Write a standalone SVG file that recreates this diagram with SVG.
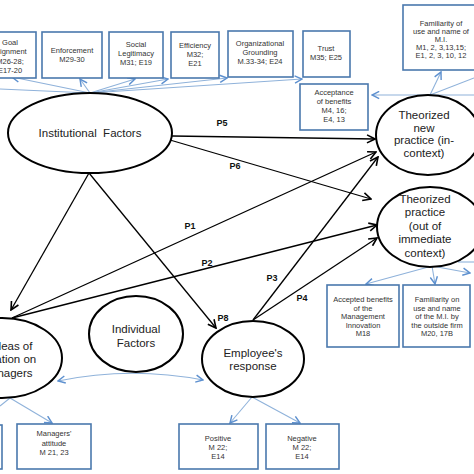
<svg xmlns="http://www.w3.org/2000/svg" width="474" height="474" viewBox="0 0 474 474">
<style>
.box{fill:#fff;stroke:#4a78ad;stroke-width:1.6}
.ell{fill:#fff;stroke:#000;stroke-width:2}
.lb{stroke:#8fb2da;stroke-width:1.1;fill:none}
.k{stroke:#000;stroke-width:1.3;fill:none}
text{font-family:"Liberation Sans",Arial,sans-serif;text-anchor:middle}
.bt{font-size:7.5px;fill:#333}
.et{font-size:11.5px;fill:#222}
.pl{font-size:9px;font-weight:bold;fill:#111}
</style>
<defs>
<marker id="ak" viewBox="0 0 10 10" refX="9" refY="5" markerWidth="10" markerHeight="10" markerUnits="userSpaceOnUse" orient="auto"><path d="M1,1 L9,5 L1,9" fill="none" stroke="#000" stroke-width="1.6"/></marker>
<marker id="ab" viewBox="0 0 10 10" refX="9" refY="5" markerWidth="9" markerHeight="9" markerUnits="userSpaceOnUse" orient="auto-start-reverse"><path d="M1,1 L9,5 L1,9" fill="none" stroke="#5d90cf" stroke-width="1.6"/></marker>
</defs>
<rect width="474" height="474" fill="#fff"/>
<g id="connectors">
<path class="lb" d="M90,93 L12,77" marker-end="url(#ab)"/>
<path class="lb" d="M90,93 L0,89"/>
<path class="lb" d="M90,93 L80,79" marker-end="url(#ab)"/>
<path class="lb" d="M90,93 L135,79" marker-end="url(#ab)"/>
<path class="lb" d="M90,93 L168,79" marker-end="url(#ab)"/>
<path class="lb" d="M90,93 L227,78" marker-end="url(#ab)"/>
<path class="lb" d="M90,93 L302,79" marker-end="url(#ab)"/>
<path class="lb" d="M430,95 L441,72" marker-end="url(#ab)"/>
<path class="lb" d="M430,95 L474,78"/>
<path class="lb" d="M474,95 L372,95" marker-end="url(#ab)"/>
<path class="lb" d="M432,266 L366,284" marker-end="url(#ab)"/>
<path class="lb" d="M432,266 L435,284" marker-end="url(#ab)"/>
<path class="lb" d="M432,266 L470,273" marker-end="url(#ab)"/>
<path class="lb" d="M458,262 L474,262"/>
<path class="lb" d="M10,398 L52,423" marker-end="url(#ab)"/>
<path class="lb" d="M10,398 L0,406"/>
<path class="lb" d="M58,381 Q130,366 203,380" marker-start="url(#ab)" marker-end="url(#ab)"/>
<path class="lb" d="M252,397 L230,423" marker-end="url(#ab)"/>
<path class="lb" d="M252,397 L300,423" marker-end="url(#ab)"/>
<path class="k" d="M172,136 L375,139" marker-end="url(#ak)"/>
<path class="k" d="M170,140 L371,199" marker-end="url(#ak)"/>
<path class="k" d="M12,318 L376,152" marker-end="url(#ak)"/>
<path class="k" d="M12,318 L377,225" marker-end="url(#ak)"/>
<path class="k" d="M253,320 L378,157" marker-end="url(#ak)"/>
<path class="k" d="M253,320 L377,238" marker-end="url(#ak)"/>
<path class="k" d="M89,173 L11,310" marker-end="url(#ak)"/>
<path class="k" d="M89,173 L216,328" marker-end="url(#ak)"/>
<text class="pl" x="222" y="126">P5</text>
<text class="pl" x="235" y="169">P6</text>
<text class="pl" x="190" y="229">P1</text>
<text class="pl" x="207" y="266">P2</text>
<text class="pl" x="272" y="281">P3</text>
<text class="pl" x="302" y="301">P4</text>
<text class="pl" x="223" y="321">P8</text>
</g>
<g id="goal"><rect class="box" x="-20" y="32" width="56" height="46"/>
<text class="bt" x="10" y="45">Goal</text><text class="bt" x="10" y="54">Alignment</text><text class="bt" x="10" y="64">M26-28;</text><text class="bt" x="10" y="73">E17-20</text></g>
<g id="enforcement"><rect class="box" x="42" y="32" width="60" height="46"/>
<text class="bt" x="72" y="53">Enforcement</text><text class="bt" x="72" y="62">M29-30</text></g>
<g id="social"><rect class="box" x="109" y="32" width="54" height="46"/>
<text class="bt" x="136" y="47">Social</text><text class="bt" x="136" y="56">Legitimacy</text><text class="bt" x="136" y="65">M31; E19</text></g>
<g id="efficiency"><rect class="box" x="171" y="32" width="48" height="46"/>
<text class="bt" x="195" y="48">Efficiency</text><text class="bt" x="195" y="57">M32;</text><text class="bt" x="195" y="66">E21</text></g>
<g id="organizational"><rect class="box" x="228" y="31" width="65" height="46"/>
<text class="bt" x="260" y="46">Organizational</text><text class="bt" x="260" y="55">Grounding</text><text class="bt" x="260" y="64">M.33-34; E24</text></g>
<g id="trust"><rect class="box" x="303" y="31" width="47" height="46"/>
<text class="bt" x="326" y="51">Trust</text><text class="bt" x="326" y="60">M35; E25</text></g>
<g id="familiarity"><rect class="box" x="403" y="5" width="80" height="65"/>
<text class="bt" x="441" y="26">Familiarity of</text><text class="bt" x="441" y="34">use and name of</text><text class="bt" x="441" y="42">M.I.</text><text class="bt" x="441" y="50">M1, 2, 3,13,15;</text><text class="bt" x="441" y="58">E1, 2, 3, 10, 12</text></g>
<g id="acceptance"><rect class="box" x="300" y="84" width="68" height="46"/>
<text class="bt" x="334" y="95">Acceptance</text><text class="bt" x="334" y="104">of benefits</text><text class="bt" x="334" y="113">M4, 16;</text><text class="bt" x="334" y="122">E4, 13</text></g>
<g id="institutional"><ellipse class="ell" cx="90" cy="133" rx="82" ry="40"/>
<text class="et" x="90" y="137" style="white-space:pre">Institutional  Factors</text></g>
<g id="theorized-new"><ellipse class="ell" cx="428" cy="135" rx="52" ry="40"/>
<text class="et" x="424" y="119">Theorized</text><text class="et" x="424" y="131.5">new</text><text class="et" x="424" y="144">practice (in-</text><text class="et" x="424" y="157">context)</text></g>
<g id="theorized-practice"><ellipse class="ell" cx="430" cy="227" rx="53" ry="40"/>
<text class="et" x="425" y="203">Theorized</text><text class="et" x="425" y="216">practice</text><text class="et" x="425" y="230">(out of</text><text class="et" x="425" y="243">immediate</text><text class="et" x="425" y="257">context)</text></g>
<g id="ideas"><ellipse class="ell" cx="2" cy="358" rx="60" ry="40"/>
<text class="et" x="12" y="350">Ideas of</text><text class="et" x="2" y="363">innovation on</text><text class="et" x="7" y="377">managers</text></g>
<g id="individual"><ellipse class="ell" cx="136" cy="334" rx="47" ry="38"/>
<text class="et" x="136" y="333">Individual</text><text class="et" x="136" y="347">Factors</text></g>
<g id="employee"><ellipse class="ell" cx="253" cy="359" rx="51" ry="38"/>
<text class="et" x="253" y="357">Employee's</text><text class="et" x="253" y="370">response</text></g>
<g id="leftbox"><rect class="box" x="-40" y="425" width="42" height="44"/></g>
<g id="managers-attitude"><rect class="box" x="17" y="424" width="74" height="45"/>
<text class="bt" x="54" y="436">Managers'</text><text class="bt" x="54" y="446">attitude</text><text class="bt" x="54" y="455">M 21, 23</text></g>
<g id="positive"><rect class="box" x="179" y="424" width="79" height="45"/>
<text class="bt" x="218" y="441">Positive</text><text class="bt" x="218" y="450">M 22;</text><text class="bt" x="218" y="459">E14</text></g>
<g id="negative"><rect class="box" x="266" y="424" width="73" height="45"/>
<text class="bt" x="302" y="441">Negative</text><text class="bt" x="302" y="450">M 22;</text><text class="bt" x="302" y="459">E14</text></g>
<g id="accepted-benefits"><rect class="box" x="327" y="285" width="72" height="62"/>
<text class="bt" x="363" y="302">Accepted benefits</text><text class="bt" x="363" y="310.5">of the</text><text class="bt" x="363" y="319">Management</text><text class="bt" x="363" y="327.5">Innovation</text><text class="bt" x="363" y="336">M18</text></g>
<g id="familiarity-outside"><rect class="box" x="403" y="285" width="67" height="62"/>
<text class="bt" x="437" y="302">Familiarity on</text><text class="bt" x="437" y="310.5">use and name</text><text class="bt" x="437" y="319">of the M.I. by</text><text class="bt" x="437" y="327.5">the outside firm</text><text class="bt" x="437" y="336">M20, 17B</text></g>
</svg>
